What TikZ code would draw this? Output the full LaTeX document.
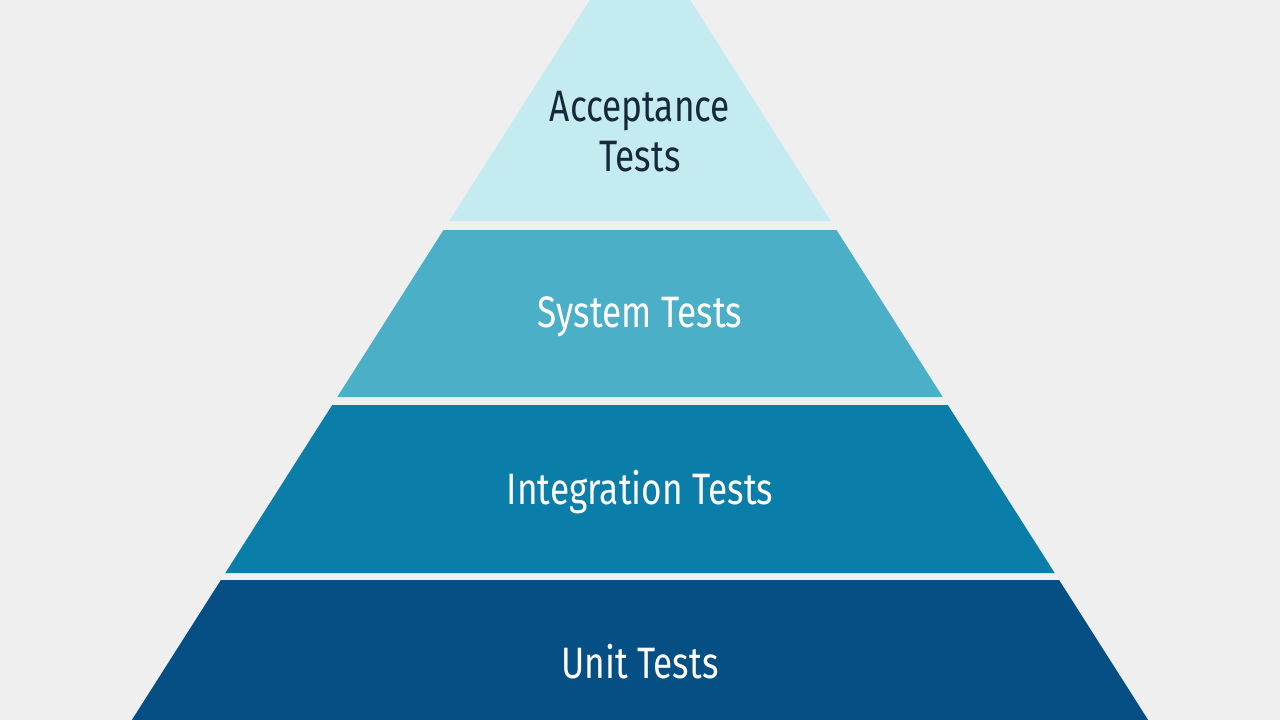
\documentclass[tikz,border=0pt]{standalone}
\usepackage{fontspec}
\setmainfont{Fira Sans}
\definecolor{bg}{HTML}{EFEFEF}
\definecolor{c1}{HTML}{C3EBF0}
\definecolor{c2}{HTML}{4BAFC8}
\definecolor{c3}{HTML}{0A7DA8}
\definecolor{c4}{HTML}{054F84}
\definecolor{dk}{HTML}{15293A}
\tikzset{lbl/.style={font=\fontsize{44}{50}\selectfont, xscale=0.8, align=center}}
\begin{document}
\begin{tikzpicture}[x=1pt,y=-1pt]
\fill[bg] (0,0) rectangle (1280,720);
\useasboundingbox (0,0) rectangle (1280,720);
\def\band#1#2#3{%
  \pgfmathsetmacro\la{640-0.636*(#1+79)}\pgfmathsetmacro\ra{1280-\la}%
  \pgfmathsetmacro\lb{640-0.636*(#2+79)}\pgfmathsetmacro\rb{1280-\lb}%
  \fill[#3] (\la,#1) -- (\ra,#1) -- (\rb,#2) -- (\lb,#2) -- cycle;}
\band{0}{221}{c1}
\band{230}{397}{c2}
\band{405}{573}{c3}
\band{580}{720}{c4}
\node[lbl,text=dk] (a) at (640,132) {Acceptance\\Tests};
\node[lbl,text=white] (s) at (640,317) {System Tests};
\node[lbl,text=white] (i) at (640,492) {Integration Tests};
\node[lbl,text=white] (u) at (640,662) {Unit Tests};
\end{tikzpicture}
\end{document}
